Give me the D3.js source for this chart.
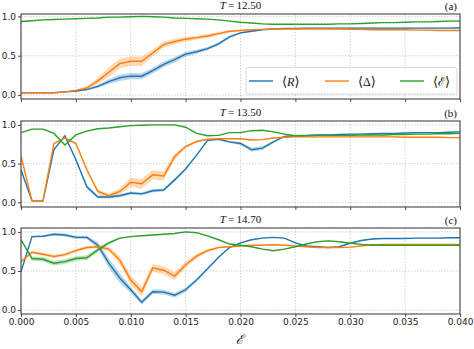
<!DOCTYPE html>
<html><head><meta charset="utf-8">
<script src="https://cdn.jsdelivr.net/npm/d3@7/dist/d3.min.js"></script>
<style>body{margin:0;background:#fff}svg{display:block}</style>
</head><body><svg id="c" width="474" height="349"></svg>
<script>
// epsilon grid (0.000 .. 0.040 step 0.001)
const eps = d3.range(41).map(i => +(i*0.001).toFixed(3));
const xTicks = [0,0.005,0.010,0.015,0.020,0.025,0.030,0.035,0.040];
const yTicks = [0,0.5,1.0];
const temps = ["12.50","13.50","14.70"];
const panelLabels = ["(a)","(b)","(c)"];

// Panel (a) T=12.50
const R_a = [0.03,0.03,0.03,0.03,0.04,0.05,0.07,0.11,0.17,0.22,0.24,0.24,0.31,0.39,0.45,0.52,0.55,0.59,0.65,0.74,0.79,0.81,0.83,0.84,0.845,0.845,0.85,0.85,0.85,0.85,0.85,0.85,0.85,0.85,0.85,0.85,0.85,0.85,0.85,0.85,0.855];
const D_a = [0.03,0.03,0.03,0.03,0.04,0.06,0.09,0.18,0.29,0.40,0.43,0.43,0.535,0.64,0.68,0.71,0.73,0.75,0.78,0.81,0.82,0.83,0.835,0.84,0.84,0.84,0.84,0.84,0.84,0.84,0.835,0.835,0.83,0.83,0.83,0.83,0.825,0.825,0.82,0.82,0.82];
const E_a = [0.935,0.945,0.955,0.96,0.965,0.97,0.975,0.98,0.99,0.99,0.995,1.0,0.995,0.99,0.98,0.975,0.97,0.965,0.955,0.94,0.925,0.915,0.905,0.9,0.9,0.9,0.9,0.9,0.9,0.905,0.905,0.91,0.915,0.92,0.92,0.925,0.93,0.93,0.935,0.94,0.94];
const sR_a = [0.005,0.005,0.005,0.005,0.005,0.01,0.01,0.02,0.03,0.04,0.04,0.04,0.035,0.035,0.035,0.03,0.025,0.02,0.02,0.015,0.01,0.01,0.005,0.005,0.005,0.005,0.005,0.005,0.005,0.005,0.005,0.005,0.005,0.005,0.005,0.005,0.005,0.005,0.005,0.005,0.005];
const sD_a = [0.005,0.005,0.005,0.005,0.01,0.01,0.02,0.04,0.06,0.06,0.06,0.06,0.045,0.04,0.035,0.03,0.025,0.025,0.02,0.015,0.01,0.01,0.005,0.005,0.005,0.005,0.005,0.005,0.005,0.005,0.005,0.005,0.005,0.005,0.005,0.005,0.005,0.005,0.005,0.005,0.005];
const sE_a = eps.map(() => 0.003);

// Panel (b) T=13.50
const R_b = [0.42,0.02,0.02,0.68,0.86,0.55,0.2,0.07,0.07,0.085,0.12,0.11,0.15,0.16,0.29,0.43,0.61,0.80,0.815,0.78,0.76,0.68,0.70,0.78,0.85,0.86,0.865,0.87,0.87,0.875,0.88,0.88,0.885,0.89,0.89,0.895,0.90,0.90,0.90,0.905,0.91];
const D_b = [0.60,0.02,0.02,0.76,0.83,0.76,0.42,0.14,0.085,0.14,0.26,0.24,0.355,0.34,0.59,0.72,0.785,0.815,0.82,0.82,0.82,0.805,0.81,0.83,0.84,0.845,0.845,0.845,0.845,0.845,0.845,0.845,0.845,0.845,0.845,0.84,0.84,0.84,0.84,0.835,0.835];
const E_b = [0.90,0.945,0.945,0.89,0.74,0.87,0.92,0.95,0.96,0.975,0.99,0.995,1.0,1.0,1.0,0.97,0.89,0.86,0.865,0.90,0.90,0.925,0.93,0.91,0.88,0.86,0.86,0.865,0.865,0.865,0.865,0.87,0.87,0.87,0.875,0.875,0.88,0.88,0.885,0.885,0.89];
const sR_b = [0.01,0.005,0.005,0.01,0.01,0.02,0.025,0.02,0.02,0.02,0.02,0.02,0.02,0.02,0.02,0.015,0.01,0.01,0.01,0.015,0.02,0.025,0.025,0.015,0.01,0.005,0.005,0.005,0.005,0.005,0.005,0.005,0.005,0.005,0.005,0.005,0.005,0.005,0.005,0.005,0.005];
const sD_b = [0.01,0.005,0.005,0.01,0.01,0.015,0.02,0.03,0.03,0.04,0.06,0.06,0.06,0.06,0.04,0.02,0.01,0.01,0.005,0.005,0.005,0.005,0.005,0.005,0.005,0.005,0.005,0.005,0.005,0.005,0.005,0.005,0.005,0.005,0.005,0.005,0.005,0.005,0.005,0.005,0.005];
const sE_b = eps.map(() => 0.004);

// Panel (c) T=14.70
const R_c = [0.49,0.94,0.945,0.97,0.96,0.93,0.93,0.83,0.60,0.41,0.26,0.10,0.235,0.23,0.19,0.26,0.385,0.53,0.675,0.80,0.86,0.90,0.92,0.93,0.92,0.86,0.82,0.81,0.80,0.81,0.855,0.89,0.91,0.915,0.915,0.915,0.92,0.92,0.92,0.925,0.925];
const D_c = [0.62,0.74,0.715,0.685,0.71,0.76,0.80,0.81,0.78,0.64,0.385,0.235,0.54,0.51,0.435,0.58,0.69,0.76,0.80,0.81,0.82,0.83,0.83,0.835,0.83,0.82,0.81,0.80,0.80,0.80,0.805,0.82,0.835,0.84,0.84,0.84,0.84,0.84,0.84,0.84,0.84];
const E_c = [0.90,0.66,0.65,0.60,0.62,0.66,0.67,0.77,0.86,0.92,0.94,0.95,0.96,0.97,0.98,1.0,0.99,0.95,0.90,0.845,0.83,0.81,0.78,0.76,0.78,0.81,0.845,0.875,0.885,0.875,0.855,0.84,0.83,0.83,0.83,0.83,0.83,0.83,0.83,0.83,0.83];
const sR_c = [0.01,0.01,0.01,0.015,0.02,0.02,0.02,0.04,0.06,0.06,0.04,0.03,0.03,0.03,0.03,0.03,0.02,0.015,0.01,0.01,0.005,0.005,0.005,0.005,0.005,0.005,0.005,0.005,0.005,0.005,0.005,0.005,0.005,0.005,0.005,0.005,0.005,0.005,0.005,0.005,0.005];
const sD_c = [0.01,0.02,0.02,0.02,0.02,0.02,0.02,0.02,0.03,0.05,0.06,0.06,0.05,0.05,0.05,0.04,0.03,0.02,0.01,0.01,0.005,0.005,0.005,0.005,0.005,0.005,0.005,0.005,0.005,0.005,0.005,0.005,0.005,0.005,0.005,0.005,0.005,0.005,0.005,0.005,0.005];
const sE_c = [0.01,0.03,0.03,0.03,0.03,0.03,0.03,0.03,0.02,0.01,0.005,0.005,0.005,0.005,0.005,0.005,0.005,0.005,0.005,0.005,0.005,0.005,0.005,0.005,0.005,0.005,0.005,0.005,0.005,0.005,0.005,0.005,0.005,0.005,0.005,0.005,0.005,0.005,0.005,0.005,0.005];

const seriesNames = ["R","Δ","ℰ"];
const colors = ["#1f77b4","#ff7f0e","#2ca02c"];
const panels = [
  {means:[R_a,D_a,E_a], errs:[sR_a,sD_a,sE_a], top:14, bottom:99, dom:[-0.05,1.03]},
  {means:[R_b,D_b,E_b], errs:[sR_b,sD_b,sE_b], top:121, bottom:207, dom:[-0.06,1.05]},
  {means:[R_c,D_c,E_c], errs:[sR_c,sD_c,sE_c], top:228, bottom:314, dom:[-0.05,1.05]}
];

const svg = d3.select("#c");
const L = 21, Rr = 460;
const x = d3.scaleLinear().domain([0,0.04]).range([L,Rr]);
const serif = "'Liberation Serif','DejaVu Serif',serif";

panels.forEach((p, pi) => {
  const y = d3.scaleLinear().domain(p.dom).range([p.bottom, p.top]);
  const g = svg.append("g");
  const cid = "clip"+pi;
  svg.append("clipPath").attr("id",cid).append("rect")
    .attr("x",L).attr("y",p.top).attr("width",Rr-L).attr("height",p.bottom-p.top);
  // grid
  g.selectAll(".gx").data(xTicks).join("line")
    .attr("x1",d=>x(d)).attr("x2",d=>x(d)).attr("y1",p.top).attr("y2",p.bottom)
    .attr("stroke","#c8c8c8").attr("stroke-width",0.8).attr("stroke-dasharray","1.5,1.5");
  g.selectAll(".gy").data(yTicks).join("line")
    .attr("x1",L).attr("x2",Rr).attr("y1",d=>y(d)).attr("y2",d=>y(d))
    .attr("stroke","#c8c8c8").attr("stroke-width",0.8).attr("stroke-dasharray","1.5,1.5");
  const plot = g.append("g").attr("clip-path",`url(#${cid})`);
  p.means.forEach((m, si) => {
    const e = p.errs[si];
    const area = d3.area().x((d,i)=>x(eps[i])).y0((d,i)=>y(m[i]-e[i])).y1((d,i)=>y(m[i]+e[i]));
    plot.append("path").attr("d",area(m)).attr("fill",colors[si]).attr("fill-opacity",0.3).attr("stroke","none");
  });
  p.means.forEach((m, si) => {
    const line = d3.line().x((d,i)=>x(eps[i])).y(d=>y(d));
    plot.append("path").attr("d",line(m)).attr("fill","none").attr("stroke",colors[si]).attr("stroke-width",1.4);
  });
  // axes
  const xa = d3.axisBottom(x).tickValues(xTicks).tickSize(3).tickPadding(2)
    .tickFormat(pi===2 ? d3.format(".3f") : () => "");
  const ax = g.append("g").attr("transform",`translate(0,${p.bottom})`).call(xa);
  const ya = d3.axisLeft(y).tickValues(yTicks).tickSize(3).tickPadding(2).tickFormat(d3.format(".1f"));
  const ay = g.append("g").attr("transform",`translate(${L},0)`).call(ya);
  [ax,ay].forEach(a => {
    a.select(".domain").remove();
    a.selectAll("line").attr("stroke","#333").attr("stroke-width",0.9);
    a.selectAll("text").attr("font-family","'DejaVu Sans',sans-serif").attr("font-size",9).attr("fill","#222");
  });
  g.append("rect").attr("x",L).attr("y",p.top).attr("width",Rr-L).attr("height",p.bottom-p.top)
    .attr("fill","none").attr("stroke","#444").attr("stroke-width",1.1);
  // title
  const t = g.append("text").attr("x",(L+Rr)/2).attr("y",p.top-5).attr("text-anchor","middle")
    .attr("font-family",serif).attr("font-size",11).attr("fill","#111");
  t.append("tspan").attr("font-style","italic").text("T");
  t.append("tspan").text("\u2009=\u2009"+temps[pi]);
  g.append("text").attr("x",457).attr("y",p.top-4.5).attr("text-anchor","end")
    .attr("font-family",serif).attr("font-size",11).attr("fill","#111").text(panelLabels[pi]);

  if (pi===0) {
    const lg = g.append("g");
    lg.append("rect").attr("x",246).attr("y",67.5).attr("width",211).attr("height",26.5).attr("rx",2)
      .attr("fill","#fff").attr("fill-opacity",0.85).attr("stroke","#d0d0d0").attr("stroke-width",0.8);
    const lx = [249,325,400];
    seriesNames.forEach((n, si) => {
      lg.append("line").attr("x1",lx[si]).attr("x2",lx[si]+24).attr("y1",81).attr("y2",81)
        .attr("stroke",colors[si]).attr("stroke-width",1.4);
      const tt = lg.append("text").attr("x",lx[si]+33).attr("y",85.5)
        .attr("font-family",serif).attr("font-size",12).attr("fill","#111");
      tt.append("tspan").attr("font-family","'DejaVu Sans',sans-serif").attr("font-size",13).text("⟨");
      tt.append("tspan").attr("font-style", si===0 ? "italic":"normal")
        .attr("font-family", si===2 ? "'DejaVu Serif',serif" : serif).text(n);
      tt.append("tspan").attr("font-family","'DejaVu Sans',sans-serif").attr("font-size",13).text("⟩");
    });
  }
});

svg.append("text").attr("x",240).attr("y",344).attr("text-anchor","middle")
  .attr("font-family","'DejaVu Serif',serif").attr("font-style","italic").attr("font-size",13).attr("fill","#111").text("ℰ");
</script></body></html>
